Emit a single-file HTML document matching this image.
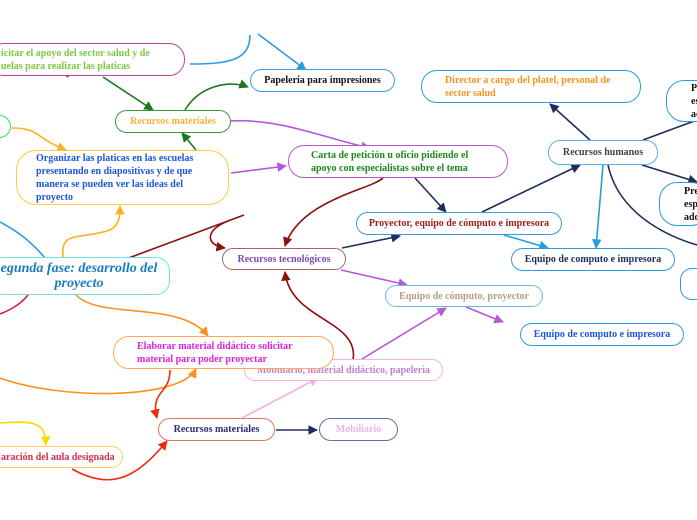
<!DOCTYPE html>
<html><head><meta charset="utf-8"><style>
body{margin:0;width:697px;height:520px;overflow:hidden;background:#fff;position:relative;font-family:"Liberation Serif",serif;font-weight:bold;font-size:10px}
.n{position:absolute;box-sizing:border-box;border:1.6px solid;border-radius:12px;background:#fff;display:flex;align-items:center;line-height:13px}
.c{justify-content:center;text-align:center}
svg{position:absolute;left:0;top:0}
</style></head><body>
<svg width="697" height="520" viewBox="0 0 697 520" fill="none" stroke-width="1.6">
<defs>
<marker id="a" viewBox="0 0 10 10" refX="9" refY="5" markerWidth="6" markerHeight="6" orient="auto"><path d="M0,0L10,5L0,10z" fill="context-stroke" stroke="none"/></marker>
</defs>
<g marker-end="url(#a)">
<path d="M190,64 C230,64 250,60 250,35" stroke="#2b9be0" marker-end="none"/>
<path d="M258,34 L306,70" stroke="#2b9be0"/>
<path d="M0,72 C40,72 60,65 68,77" stroke="#9b1a8a"/>
<path d="M103,77 L153,110" stroke="#1a7a1a"/>
<path d="M185,110 C200,85 230,80 248,87" stroke="#1a7a1a"/>
<path d="M196,150 L182,133" stroke="#1a7a1a"/>
<path d="M12,128 C40,128 35,138 66,150" stroke="#ffb020"/>
<path d="M231,121 C280,118 330,140 370,148" stroke="#b657d8"/>
<path d="M231,173 L286,166" stroke="#b657d8"/>
<path d="M383,178 C370,190 300,200 285,246" stroke="#8a1010"/>
<path d="M415,178 L446,212" stroke="#1f2d5c"/>
<path d="M482,212 L580,165" stroke="#1f2d5c"/>
<path d="M590,140 L550,104" stroke="#1f2d5c"/>
<path d="M643,140 L697,120" stroke="#1f2d5c" marker-end="none"/>
<path d="M642,165 L697,182" stroke="#1f2d5c"/>
<path d="M608,165 C620,220 680,240 697,245" stroke="#1f2d5c" marker-end="none"/>
<path d="M603,165 L596,248" stroke="#2b9be0"/>
<path d="M504,235 L548,248" stroke="#2b9be0"/>
<path d="M342,248 L400,236" stroke="#1f2d5c"/>
<path d="M341,270 L407,285" stroke="#b657d8"/>
<path d="M466,307 L503,322" stroke="#b657d8"/>
<path d="M362,359 L446,308" stroke="#b657d8"/>
<path d="M353,360 C360,320 290,320 285,272" stroke="#8a1010"/>
<path d="M126,259 L244,215" stroke="#8a1010" marker-end="none"/>
<path d="M228,221 C205,230 205,245 225,248" stroke="#8a1010"/>
<path d="M63,257 C60,230 80,240 110,230 C120,225 120,215 120,206" stroke="#ffb020"/>
<path d="M45,258 C30,240 15,230 0,222" stroke="#2b9be0" marker-end="none"/>
<path d="M28,295 C20,305 10,310 0,314" stroke="#d02040" marker-end="none"/>
<path d="M76,295 C100,320 180,300 208,336" stroke="#ff9020"/>
<path d="M0,378 C60,400 180,400 196,369" stroke="#ff9020"/>
<path d="M170,370 C170,395 150,390 157,418" stroke="#ee2a10"/>
<path d="M242,418 L318,378" stroke="#f0b0e8"/>
<path d="M276,430 L317,430" stroke="#1f2d5c"/>
<path d="M0,423 C40,420 45,425 46,445" stroke="#ffd800"/>
<path d="M72,469 C110,490 135,480 167,441" stroke="#ee2a10"/>
</g>
</svg>
<div class="n" style="left:-12px;top:43px;width:197px;height:33px;border-color:#b04aa0;color:#7ac943;padding-left:12px;border-radius:16px">icitar el apoyo del sector salud y de<br>uelas para realizar las platicas</div>
<div class="n c" style="left:250px;top:69px;width:145px;height:23px;border-color:#3aa0e0;color:#111">Papelería para impresiones</div>
<div class="n c" style="left:115px;top:110px;width:116px;height:23px;border-color:#3a9a3a;color:#fbb03b">Recursos materiales</div>
<div class="n" style="left:-12px;top:115px;width:23px;height:23px;border-color:#33dd66"></div>
<div class="n" style="left:16px;top:150px;width:213px;height:55px;border-color:#ffc93c;color:#1a56db;padding-left:19px;border-radius:20px">Organizar las platicas en las escuelas<br>presentando en diapositivas y de que<br>manera se pueden ver las ideas del<br>proyecto</div>
<div class="n" style="left:288px;top:145px;width:220px;height:33px;border-color:#b657d8;color:#1a8a1a;padding-left:22px;border-radius:16px">Carta de petición u oficio pidiendo el<br>apoyo con especialistas sobre el tema</div>
<div class="n" style="left:421px;top:70px;width:220px;height:33px;border-color:#2b9be0;color:#f7931e;padding-left:23px;border-radius:16px">Director a cargo del platel, personal de<br>sector salud</div>
<div class="n c" style="left:548px;top:140px;width:110px;height:25px;border-color:#5ab0ea;color:#444">Recursos humanos</div>
<div class="n" style="left:666px;top:80px;width:50px;height:42px;border-color:#2b9be0;color:#111;padding-left:24px;border-radius:18px">Pr<br>es<br>ad</div>
<div class="n" style="left:659px;top:182px;width:50px;height:44px;border-color:#2b9be0;color:#111;padding-left:24px;border-radius:18px">Pre<br>esp<br>ado</div>
<div class="n" style="left:680px;top:268px;width:40px;height:32px;border-color:#2b9be0"></div>
<div class="n c" style="left:356px;top:212px;width:206px;height:23px;border-color:#3a9de0;color:#9b1c1c">Proyector, equipo de cómputo e impresora</div>
<div class="n c" style="left:511px;top:248px;width:164px;height:23px;border-color:#2b9be0;color:#1f2d5c">Equipo de computo e impresora</div>
<div class="n c" style="left:222px;top:248px;width:124px;height:22px;border-color:#b05c5c;color:#7a4cb0">Recursos tecnológicos</div>
<div class="n c" style="left:-12px;top:257px;width:182px;height:38px;border-color:#6de0e0;color:#1a7ac0;font-style:italic;font-size:14px;line-height:15px;border-radius:14px">egunda fase: desarrollo del<br>proyecto</div>
<div class="n c" style="left:385px;top:285px;width:158px;height:22px;border-color:#6ab8e8;color:#b0a080">Equipo de cómputo, proyector</div>
<div class="n c" style="left:520px;top:323px;width:164px;height:23px;border-color:#2b9be0;color:#1a56db">Equipo de computo e impresora</div>
<div class="n c" style="left:244px;top:359px;width:199px;height:22px;border-color:#f0b0e8;color:#c080d0">Mobiliario, material didáctico, papeleria</div>
<div class="n" style="left:113px;top:336px;width:221px;height:33px;border-color:#ffaa55;color:#e020e0;padding-left:23px;border-radius:16px">Elaborar material didáctico solicitar<br>material para poder proyectar</div>
<div class="n c" style="left:158px;top:418px;width:117px;height:23px;border-color:#f07060;color:#2d2d7a">Recursos materiales</div>
<div class="n c" style="left:319px;top:418px;width:79px;height:23px;border-color:#6070a8;color:#f0b0e8">Mobiliario</div>
<div class="n" style="left:-12px;top:446px;width:135px;height:22px;border-color:#ffd060;color:#d0304a;padding-left:12px">aración del aula designada</div>
</body></html>
